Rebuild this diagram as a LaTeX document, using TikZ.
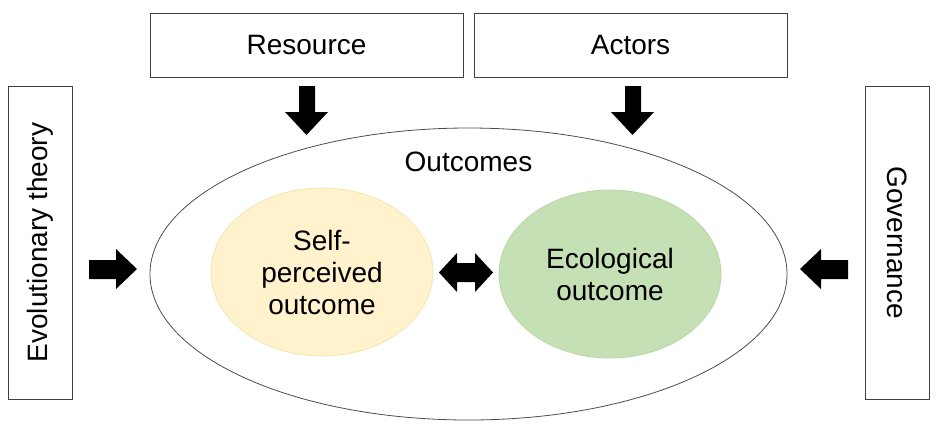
\documentclass[tikz,border=0pt]{standalone}
\usepackage{fontspec}
\setmainfont{Liberation Sans}
\begin{document}
\begin{tikzpicture}[x=1pt,y=-1pt,
  box/.style={draw=black!75,line width=0.9pt,fill=white,inner sep=0pt},
  lbl/.style={font=\fontsize{28}{32}\selectfont,align=center},
  blk/.style={fill=black}]
\useasboundingbox (0,0) rectangle (944,432);
% boxes
\node[box,minimum width=313pt,minimum height=64pt] (res) at (306.5,45) {};
\node[lbl] at (res.center) {Resource};
\node[box,minimum width=313pt,minimum height=64pt] (act) at (630.5,45) {};
\node[lbl] at (act.center) {Actors};
\node[box,minimum width=64pt,minimum height=313pt] (evo) at (40,242.5) {};
\node[lbl,rotate=90] at (evo.center) {Evolutionary theory};
\node[box,minimum width=64pt,minimum height=313pt] (gov) at (897,242.5) {};
\node[lbl,rotate=-90] at (gov.center) {Governance};
% ellipses
\draw[black!70,line width=0.8pt] (468.5,274) ellipse [x radius=318.5, y radius=146];
\node[lbl] (out) at (468.5,162) {Outcomes};
\fill[fill={rgb,255:red,255;green,242;blue,204},draw={rgb,255:red,245;green,228;blue,170},line width=0.8pt] (322,272) ellipse [x radius=111, y radius=84];
\coordinate (self) at (322,272);
\node[lbl] at (322,272) {Self-\\perceived\\outcome};
\fill[fill={rgb,255:red,197;green,224;blue,180},draw={rgb,255:red,185;green,215;blue,165},line width=0.8pt] (610,274) ellipse [x radius=111, y radius=84];
\coordinate (eco) at (610,274);
\node[lbl] at (610,274) {Ecological\\outcome};
% block arrows
\fill[blk] (299,86) -- (315,86) -- (315,112) -- (328,112) -- (306.5,135) -- (285,112) -- (299,112) -- cycle;
\fill[blk] (625,86) -- (641,86) -- (641,112) -- (654,112) -- (632.5,135) -- (611,112) -- (625,112) -- cycle;
\fill[blk] (89,260) -- (116,260) -- (116,249) -- (137,269) -- (116,289) -- (116,279) -- (89,279) -- cycle;
\fill[blk] (848,260) -- (821,260) -- (821,249) -- (800,269) -- (821,289) -- (821,279) -- (848,279) -- cycle;
\fill[blk] (439,272.5) -- (457,253) -- (457,263) -- (475,263) -- (475,253) -- (493,272.5) -- (475,292) -- (475,282) -- (457,282) -- (457,292) -- cycle;
\end{tikzpicture}
\end{document}
